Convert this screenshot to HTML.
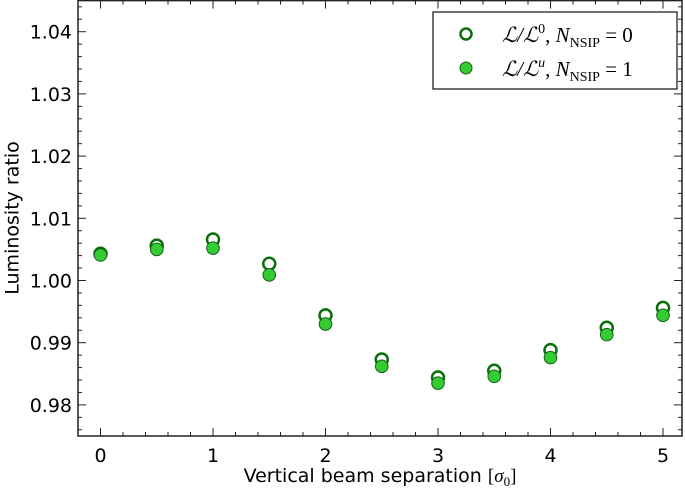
<!DOCTYPE html>
<html><head><meta charset="utf-8"><style>
body{margin:0;background:#fff}
svg{display:block;font-family:"DejaVu Sans","Liberation Sans",sans-serif}
</style></head><body>
<svg id="chart" width="685" height="489">
<g id="ticks"></g>
<g id="marks"></g>
<rect x="78" y="0.6" width="604" height="435.4" fill="none" stroke="#222" stroke-width="1.5"/>
<text x="12" y="218" transform="rotate(-90 12 218)" text-anchor="middle" dy="0.35em" font-size="19">Luminosity ratio</text>
<text x="380" y="482" text-anchor="middle" font-size="19">Vertical beam separation <tspan font-family="Liberation Serif,serif">[<tspan font-style="italic">σ</tspan><tspan font-size="13" dy="4">0</tspan><tspan dy="-4">]</tspan></tspan></text>
<g>
<rect x="433" y="12" width="244" height="77" fill="#fff" stroke="#111" stroke-width="1.2"/>
<circle cx="466" cy="34" r="5.5" fill="none" stroke="#0a6e0a" stroke-width="2.5"/>
<circle cx="466" cy="68" r="6" fill="#33cc33" stroke="#1a5e1a" stroke-width="1"/>
<text x="502" y="42" font-size="21" font-family="Liberation Serif,serif"><tspan font-style="italic">ℒ/ℒ</tspan><tspan font-size="14" dy="-9">0</tspan><tspan dy="9">,  </tspan><tspan font-style="italic">N</tspan><tspan font-size="14" dy="5">NSIP</tspan><tspan dy="-5"> = 0</tspan></text>
<text x="502" y="76" font-size="21" font-family="Liberation Serif,serif"><tspan font-style="italic">ℒ/ℒ</tspan><tspan font-size="14" dy="-9" font-style="italic">u</tspan><tspan dy="9">,  </tspan><tspan font-style="italic">N</tspan><tspan font-size="14" dy="5">NSIP</tspan><tspan dy="-5"> = 1</tspan></text>
</g>
</svg>
<script>
const separations=[0,0.5,1,1.5,2,2.5,3,3.5,4,4.5,5];
const ratioNsip0=[1.0043,1.0056,1.0066,1.0027,0.9944,0.9873,0.9844,0.9855,0.9888,0.9924,0.9956];
const ratioNsip1=[1.0041,1.0050,1.0052,1.0009,0.9930,0.9862,0.9835,0.9846,0.9876,0.9913,0.9944];
const xTickLabels=["0","1","2","3","4","5"];
const yTickLabels=["0.98","0.99","1.00","1.01","1.02","1.03","1.04"];
const L=78,R=682,T=0.6,B=436,X0=-0.2,X1=5.1689,Y0=0.975,Y1=1.045;
const sx=v=>L+(v-X0)/(X1-X0)*(R-L);
const sy=v=>B-(v-Y0)/(Y1-Y0)*(B-T);
const NS="http://www.w3.org/2000/svg";
const tk=document.getElementById('ticks'),mk=document.getElementById('marks');
function ln(x1,y1,x2,y2){const l=document.createElementNS(NS,'line');l.setAttribute('x1',x1);l.setAttribute('y1',y1);l.setAttribute('x2',x2);l.setAttribute('y2',y2);l.setAttribute('stroke','#222');l.setAttribute('stroke-width','1');


tk.appendChild(l);}
for(let i=0;i<=26;i++){const v=i*0.2;if(v>X1)break;const x=sx(v);const maj=i%5===0;const s=maj?8:4;ln(x,B,x,B-s);ln(x,T,x,T+s);}
for(let i=0;i<=35;i++){const v=0.976+i*0.002;if(v>Y1)break;const y=sy(v);const maj=Math.round(v*1000)%10===0;const s=maj?8:4;ln(L,y,L+s,y);ln(R,y,R-s,y);}
xTickLabels.forEach(t=>{const e=document.createElementNS(NS,'text');e.setAttribute('x',sx(+t));e.setAttribute('y',B+26);e.setAttribute('text-anchor','middle');e.setAttribute('font-size','19');e.textContent=t;


tk.appendChild(e);});
yTickLabels.forEach(t=>{const e=document.createElementNS(NS,'text');e.setAttribute('x',L-6);e.setAttribute('y',sy(+t)+7);e.setAttribute('text-anchor','end');e.setAttribute('font-size','19');e.textContent=t;


tk.appendChild(e);});
separations.forEach((s,i)=>{const c=document.createElementNS(NS,'circle');c.setAttribute('cx',sx(s));c.setAttribute('cy',sy(ratioNsip0[i]));c.setAttribute('r','6');c.setAttribute('fill','none');c.setAttribute('stroke','#0a6e0a');c.setAttribute('stroke-width','2.5');


mk.appendChild(c);});
separations.forEach((s,i)=>{const c=document.createElementNS(NS,'circle');c.setAttribute('cx',sx(s));c.setAttribute('cy',sy(ratioNsip1[i]));c.setAttribute('r','6.3');c.setAttribute('fill','#33cc33');c.setAttribute('stroke','#1a5e1a');c.setAttribute('stroke-width','1');


mk.appendChild(c);});
</script>
</body></html>
